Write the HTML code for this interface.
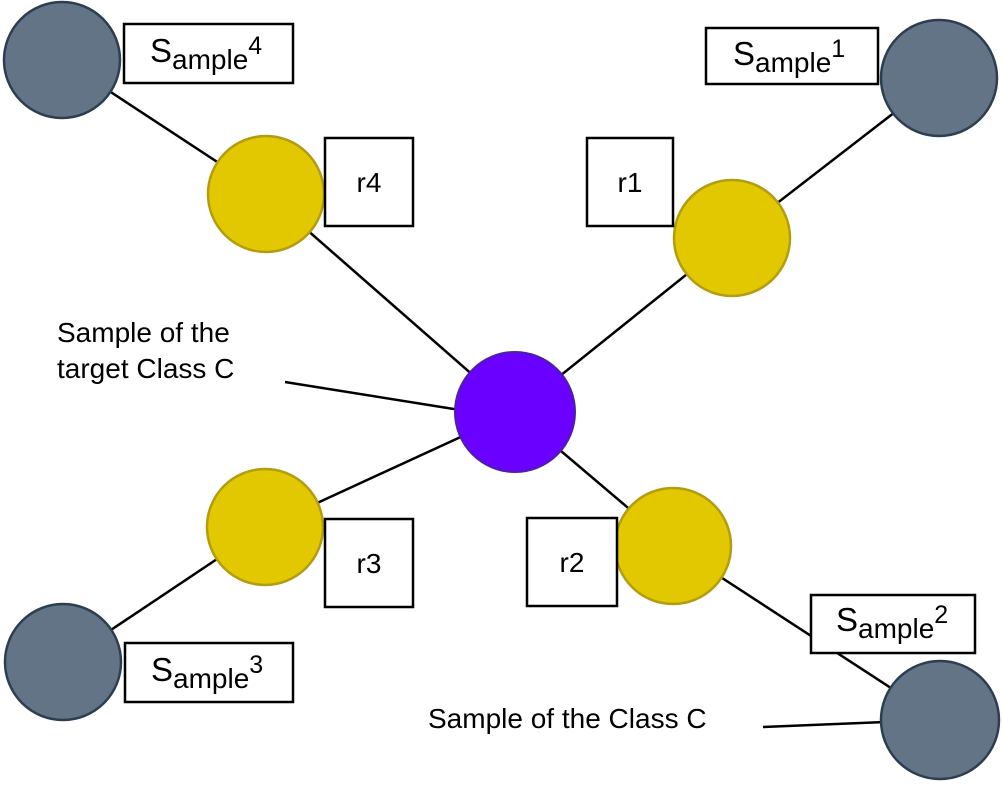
<!DOCTYPE html>
<html><head><style>body{margin:0;background:#fff}</style></head><body>
<svg width="1003" height="787" xmlns="http://www.w3.org/2000/svg" font-family="Liberation Sans, sans-serif">
<g stroke="#000" stroke-width="2.5">
<line x1="62" y1="60" x2="266" y2="194"/>
<line x1="266" y1="194" x2="515" y2="412"/>
<line x1="515" y1="412" x2="732" y2="238"/>
<line x1="732" y1="238" x2="939" y2="78"/>
<line x1="515" y1="412" x2="265" y2="527"/>
<line x1="265" y1="527" x2="63" y2="662"/>
<line x1="515" y1="412" x2="673" y2="546"/>
<line x1="673" y1="546" x2="940" y2="720"/>
<line x1="285" y1="382" x2="460" y2="410"/>
<line x1="763" y1="727" x2="885" y2="722"/>
</g>
<g fill="#637487" stroke="#2c3e50" stroke-width="2.5">
<circle cx="62" cy="60" r="58"/><circle cx="939" cy="78" r="58"/>
<circle cx="63" cy="662" r="58"/><circle cx="940" cy="720" r="59"/>
</g>
<g fill="#e2c800" stroke="#b39c10" stroke-width="2.5">
<circle cx="266" cy="194" r="58"/><circle cx="732" cy="238" r="58"/>
<circle cx="265" cy="527" r="58"/><circle cx="673" cy="546" r="58"/>
</g>
<circle cx="515" cy="412" r="60" fill="#6a00ff" stroke="#4b1fa8" stroke-width="2"/>
<g fill="#fff" stroke="#000" stroke-width="2.5">
<rect x="124" y="24" width="169" height="59"/>
<rect x="706" y="28" width="172" height="56"/>
<rect x="325" y="138" width="88" height="88"/>
<rect x="587" y="138" width="86" height="88"/>
<rect x="325" y="519" width="88" height="88"/>
<rect x="527" y="518" width="90" height="88"/>
<rect x="125" y="643" width="168" height="59"/>
<rect x="811" y="595" width="164" height="58"/>
</g>
<g font-size="28" fill="#000">
<text x="150" y="62"><tspan font-size="33">S</tspan><tspan dy="7">ample</tspan><tspan dy="-15" font-size="25">4</tspan></text>
<text x="733" y="65"><tspan font-size="33">S</tspan><tspan dy="7">ample</tspan><tspan dy="-15" font-size="25">1</tspan></text>
<text x="151" y="681"><tspan font-size="33">S</tspan><tspan dy="7">ample</tspan><tspan dy="-15" font-size="25">3</tspan></text>
<text x="836" y="631"><tspan font-size="33">S</tspan><tspan dy="7">ample</tspan><tspan dy="-15" font-size="25">2</tspan></text>
<text x="369" y="192" text-anchor="middle">r4</text>
<text x="630" y="192" text-anchor="middle">r1</text>
<text x="369" y="573" text-anchor="middle">r3</text>
<text x="572" y="572" text-anchor="middle">r2</text>
<text x="57" y="342">Sample of the</text>
<text x="57" y="378">target Class C</text>
<text x="428" y="728">Sample of the Class C</text>
</g>
</svg>
</body></html>
